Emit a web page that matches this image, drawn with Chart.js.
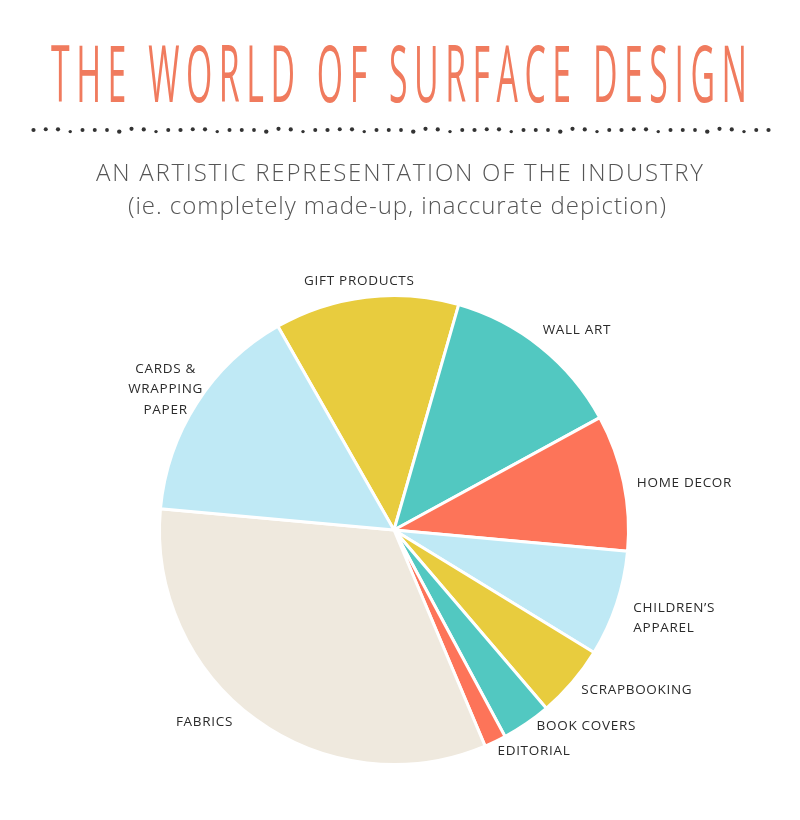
<!DOCTYPE html>
<html>
<head>
<meta charset="utf-8">
<script src="https://cdn.jsdelivr.net/npm/chart.js@4.4.1/dist/chart.umd.min.js"></script>
<style>
  html, body { margin: 0; padding: 0; background: #ffffff; }
  #page { position: relative; width: 800px; height: 820px; overflow: hidden; background: #fff; }
  #title { position: absolute; left: 0; top: 20px; width: 800px; height: 100px; }
  #dots { position: absolute; left: 0; top: 120px; width: 800px; height: 20px; }
  #subs { position: absolute; left: 0; top: 150px; width: 800px; height: 80px; }
  #chartBox { position: absolute; left: 0; top: 230px; width: 800px; height: 590px; }
</style>
</head>
<body>
<div id="page">
  <canvas id="title" width="800" height="100"></canvas>
  <canvas id="dots" width="800" height="20"></canvas>
  <canvas id="subs" width="800" height="80"></canvas>
  <div id="chartBox"><canvas id="chart"></canvas></div>
</div>
<script>
// ---- data ----
const categories = ['GIFT PRODUCTS', 'WALL ART', 'HOME DECOR', 'CHILDREN’S\nAPPAREL', 'SCRAPBOOKING', 'BOOK COVERS', 'EDITORIAL', 'FABRICS', 'CARDS &\nWRAPPING\nPAPER'];
const shares = [12.7, 12.6, 9.4, 7.3, 5.0, 3.4, 1.5, 32.8, 15.3];
const sliceColors = ['#E8CC3E', '#52C8C1', '#FD7459', '#BFE9F5', '#E8CC3E', '#52C8C1', '#FD7459', '#EFE9DE', '#BFE9F5'];
const titleText = 'THE WORLD OF SURFACE DESIGN';
const subtitleLines = ['AN ARTISTIC REPRESENTATION OF THE INDUSTRY', '(ie. completely made-up, inaccurate depiction)'];

// ---- title (condensed by horizontal scale) ----
(function () {
  const c = document.getElementById('title');
  const ctx = c.getContext('2d');
  ctx.font = '400 78px "Open Sans", sans-serif';
  ctx.letterSpacing = '15px';
  const w = ctx.measureText(titleText).width - 15;
  const target = 696;
  ctx.save();
  ctx.translate(51, 82);
  ctx.scale(target / w, 1);
  ctx.fillStyle = '#F07B5E';
  ctx.textBaseline = 'alphabetic';
  ctx.fillText(titleText, 0, 0);
  ctx.restore();
})();

// ---- dotted rule ----
(function () {
  const c = document.getElementById('dots');
  const ctx = c.getContext('2d');
  ctx.fillStyle = '#333333';
  const jitter = [0, -0.7, -0.7, 1.6, 0, 0, 0, 1.6, -1.2, -0.6, 1.6, 0];
  const sizes = [2.1, 2.0, 2.1, 1.7, 2.0, 2.0, 1.9, 2.2, 2.1, 2.1, 1.7, 2.0];
  for (let i = 0; i < 61; i++) {
    const x = 33.5 + i * 12.25;
    ctx.beginPath();
    ctx.arc(x, 10 + jitter[i % 12], sizes[i % 12], 0, Math.PI * 2);
    ctx.fill();
  }
})();

// ---- subtitle, fitted to the reference widths ----
(function () {
  const c = document.getElementById('subs');
  const ctx = c.getContext('2d');
  ctx.fillStyle = '#555555';
  ctx.textBaseline = 'alphabetic';
  ctx.textAlign = 'left';
  const specs = [{left: 96, width: 607, base: 31}, {left: 128, width: 538, base: 64}];
  subtitleLines.forEach((t, i) => {
    const s = specs[i];
    ctx.font = '300 24px "Open Sans", sans-serif';
    ctx.letterSpacing = '0px';
    const w0 = ctx.measureText(t).width;
    const ls = (s.width - w0) / (t.length - 1);
    ctx.letterSpacing = ls + 'px';
    ctx.fillText(t, s.left, s.base);
  });
})();

// ---- label plugin ----
const nudges = [
  {dx: -5, dy: -2}, {dx: -7, dy: -6}, {dx: -1, dy: 4}, {dx: 3, dy: 9.5},
  {dx: -2, dy: -2}, {dx: 2, dy: -9}, {dx: -4, dy: -3}, {dx: -14, dy: -9},
  {dx: -19, dy: -6, align: 'center'}
];
const labelPlugin = {
  id: 'sliceLabels',
  afterDatasetsDraw(chart) {
    const ctx = chart.ctx;
    const meta = chart.getDatasetMeta(0);
    ctx.save();
    ctx.font = '500 13.5px "Open Sans", sans-serif';
    ctx.letterSpacing = '0.7px';
    ctx.fillStyle = '#2b2b2b';
    ctx.textBaseline = 'middle';
    meta.data.forEach((arc, i) => {
      const p = arc.getProps(['x', 'y', 'startAngle', 'endAngle', 'outerRadius'], true);
      const mid = (p.startAngle + p.endAngle) / 2;
      const R = p.outerRadius + 14.5;
      const cx = Math.cos(mid), cy = Math.sin(mid);
      let align = cx > 0.25 ? 'left' : (cx < -0.25 ? 'right' : 'center');
      const n = nudges[i] || {dx: 0, dy: 0};
      if (n.align) align = n.align;
      ctx.textAlign = align;
      const px = p.x + R * cx + n.dx;
      const py = p.y + R * cy + n.dy;
      const lines = categories[i].split('\n');
      const lh = 20.5;
      lines.forEach((ln, k) => {
        ctx.fillText(ln, px, py + (k - (lines.length - 1) / 2) * lh);
      });
    });
    ctx.restore();
  }
};

new Chart(document.getElementById('chart'), {
  type: 'pie',
  data: {
    labels: categories,
    datasets: [{
      data: shares,
      backgroundColor: sliceColors,
      borderColor: '#ffffff',
      borderWidth: 3,
      hoverOffset: 0
    }]
  },
  options: {
    responsive: true,
    maintainAspectRatio: false,
    animation: false,
    rotation: -29.7,
    layout: { padding: { top: 64, bottom: 54, left: 0, right: 12 } },
    plugins: { legend: { display: false }, tooltip: { enabled: false } }
  },
  plugins: [labelPlugin]
});
</script>
</body>
</html>
